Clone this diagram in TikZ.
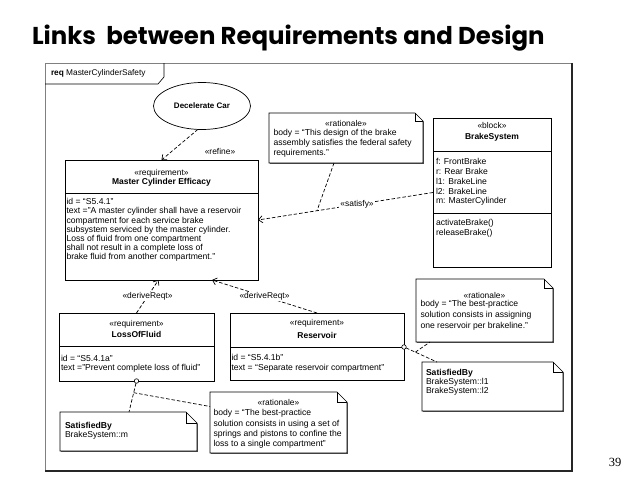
\documentclass[tikz,border=0pt]{standalone}
\usepackage{fontspec}
\setmainfont{Liberation Sans}
\newfontfamily\titlefont{Poppins}
\newfontfamily\pagefont{Liberation Serif}
\usetikzlibrary{
	arrows.meta,
	calc,
	shapes.geometric,
	shadows,
	positioning
}

\tikzset{
	every node/.style={inner sep=0pt,outer sep=0pt},
	small/.style={font=\fontsize{8.4}{10}\selectfont},
	bname/.style={font=\bfseries\fontsize{8.5}{10}\selectfont},
	body/.style={font=\fontsize{8.6}{9.6}\selectfont,align=left,anchor=north west},
	umlbox/.style={draw,fill=white,line width=0.7pt,anchor=north west,
		drop shadow={shadow xshift=0.8pt,shadow yshift=-0.8pt,opacity=1,fill=black!70}},
	notebox/.style={anchor=north west},
	notedraw/.style={draw,fill=white,line width=0.7pt,
		drop shadow={shadow xshift=0.8pt,shadow yshift=-0.8pt,opacity=1,fill=black!70}},
	sep/.style={line width=0.6pt},
	dep/.style={dash pattern=on 3.5pt off 2pt,line width=0.7pt},
	deptip/.style={dep,-{Straight Barb[length=4pt,width=7pt]}},
	lbl/.style={small,fill=white,inner sep=1pt},
	dot/.style={circle,draw,fill=white,line width=0.6pt,minimum size=4.5pt}
}

\begin{document}
\begin{tikzpicture}[x=1pt,y=-1pt]
	\useasboundingbox (0,0) rectangle (638,479);
	
	% titel
	\node[anchor=west,font=\titlefont\bfseries\fontsize{24.4}{28}\selectfont] (title) at (32,38) {Links\ \ between Requirements and Design};
	\node[font=\pagefont\fontsize{12.5}{14}\selectfont] (pageno) at (615,462) {39};
	
	% rahmen
	\node[notebox,minimum width=527pt,minimum height=408pt] (frm) at (45,63) {};
	\draw[gray,line width=0.6pt] (frm.south west) -- (frm.north west) -- (frm.north east);
	\draw[black!85,line width=1.3pt] (frm.north east) -- (frm.south east) -- (frm.south west);
	\draw[line width=0.6pt] ([yshift=-21pt]frm.north west) -- ++(113,0) -- ++(6,-7) -- ++(0,-14);
	\node[anchor=west,font=\fontsize{8.3}{9}\selectfont] (frmlbl) at (51,73) {\textbf{req} MasterCylinderSafety};
	
	% use case
	\node[ellipse,draw,line width=0.7pt,minimum width=97pt,minimum height=47pt,font=\bfseries\fontsize{8}{9}\selectfont] (dc) at (202,106) {Decelerate Car};
	
	% master cylinder efficacy
	\node[umlbox,minimum width=193pt,minimum height=120pt] (mce) at (65,160) {};
	\node[small] (mcest) at ([yshift=-13pt]mce.north) {«requirement»};
	\node[bname] (mcenm) at ([yshift=-22.5pt]mce.north) {Master Cylinder Efficacy};
	\draw[sep] ([yshift=-33pt]mce.north west) -- ([yshift=-33pt]mce.north east);
	\node[body,font=\fontsize{8.6}{9.2}\selectfont] (mcebd) at ([xshift=1.5pt,yshift=-38.5pt]mce.north west) {id = “S5.4.1”\\text =”A master cylinder shall have a reservoir\\compartment for each service brake\\subsystem serviced by the master cylinder.\\Loss of fluid from one compartment\\shall not result in a complete loss of\\brake fluid from another compartment.”};
	
	% brake system
	\node[umlbox,minimum width=118pt,minimum height=149pt] (bs) at (433,118) {};
	\node[small] (bsst) at ([yshift=-7.5pt]bs.north) {«block»};
	\node[bname] (bsnm) at ([yshift=-19.5pt]bs.north) {BrakeSystem};
	\draw[sep] ([yshift=-33pt]bs.north west) -- ([yshift=-33pt]bs.north east);
	\draw[sep] ([yshift=-95pt]bs.north west) -- ([yshift=-95pt]bs.north east);
	\node[body,font=\fontsize{8.6}{9.8}\selectfont] (bsatt) at ([xshift=3pt,yshift=-40.5pt]bs.north west) {f: FrontBrake\\r: Rear Brake\\l1: BrakeLine\\l2: BrakeLine\\m: MasterCylinder};
	\node[body,font=\fontsize{8.6}{9.8}\selectfont] (bsop) at ([xshift=3pt,yshift=-101.5pt]bs.north west) {activateBrake()\\releaseBrake()};
	
	% rationale oben
	\node[notebox,minimum width=154pt,minimum height=50pt] (rat1) at (269,113) {};
	\draw[notedraw] (rat1.north west) -- ([xshift=-8pt]rat1.north east) -- ([yshift=-8pt]rat1.north east) -- (rat1.south east) -- (rat1.south west) -- cycle;
	\draw[sep] ([xshift=-8pt]rat1.north east) |- ([yshift=-8pt]rat1.north east);
	\node[small] (rat1st) at ([yshift=-10pt]rat1.north) {«rationale»};
	\node[body,font=\fontsize{8.6}{10}\selectfont] (rat1bd) at ([xshift=4.5pt,yshift=-16.5pt]rat1.north west) {body = “This design of the brake\\assembly satisfies the federal safety\\requirements.”};
	
	% loss of fluid
	\node[umlbox,minimum width=155pt,minimum height=68pt] (lof) at (59,313) {};
	\node[small] (lofst) at ([yshift=-11pt]lof.north) {«requirement»};
	\node[bname] (lofnm) at ([yshift=-21.5pt]lof.north) {LossOfFluid};
	\draw[sep] ([yshift=-33pt]lof.north west) -- ([yshift=-33pt]lof.north east);
	\node[body,font=\fontsize{8.6}{9.2}\selectfont] (lofbd) at ([xshift=2pt,yshift=-42.5pt]lof.north west) {id = “S5.4.1a”\\text =”Prevent complete loss of fluid”};
	
	% reservoir
	\node[umlbox,minimum width=174pt,minimum height=67pt] (res) at (230,313) {};
	\node[small] (resst) at ([yshift=-10.5pt]res.north) {«requirement»};
	\node[bname] (resnm) at ([yshift=-22.5pt]res.north) {Reservoir};
	\draw[sep] ([yshift=-34pt]res.north west) -- ([yshift=-34pt]res.north east);
	\node[body,font=\fontsize{8.6}{9.8}\selectfont] (resbd) at ([xshift=1.5pt,yshift=-41.5pt]res.north west) {id = “S5.4.1b”\\text = “Separate reservoir compartment”};
	
	% rationale rechts
	\node[notebox,minimum width=137pt,minimum height=63pt] (rat2) at (416,279) {};
	\draw[notedraw] (rat2.north west) -- ([xshift=-9pt]rat2.north east) -- ([yshift=-9pt]rat2.north east) -- (rat2.south east) -- (rat2.south west) -- cycle;
	\draw[sep] ([xshift=-9pt]rat2.north east) |- ([yshift=-9pt]rat2.north east);
	\node[small] (rat2st) at ([yshift=-16pt]rat2.north) {«rationale»};
	\node[body,font=\fontsize{8.6}{10.9}\selectfont] (rat2bd) at ([xshift=4.5pt,yshift=-21.5pt]rat2.north west) {body = “The best-practice\\solution consists in assigning\\one reservoir per brakeline.”};
	
	% satisfied by l1, l2
	\node[notebox,minimum width=141pt,minimum height=49pt] (sat2) at (422,362) {};
	\draw[notedraw] (sat2.north west) -- ([xshift=-10pt]sat2.north east) -- ([yshift=-10pt]sat2.north east) -- (sat2.south east) -- (sat2.south west) -- cycle;
	\draw[sep] ([xshift=-10pt]sat2.north east) |- ([yshift=-10pt]sat2.north east);
	\node[body,font=\fontsize{8.6}{9}\selectfont] (sat2bd) at ([xshift=4pt,yshift=-7.5pt]sat2.north west) {\textbf{SatisfiedBy}\\BrakeSystem::l1\\BrakeSystem::l2};
	
	% satisfied by m
	\node[notebox,minimum width=137pt,minimum height=39pt] (sat1) at (60,412) {};
	\draw[notedraw] (sat1.north west) -- ([xshift=-11pt]sat1.north east) -- ([yshift=-11pt]sat1.north east) -- (sat1.south east) -- (sat1.south west) -- cycle;
	\draw[sep] ([xshift=-11pt]sat1.north east) |- ([yshift=-11pt]sat1.north east);
	\node[body,font=\fontsize{8.6}{9}\selectfont] (sat1bd) at ([xshift=5pt,yshift=-10.5pt]sat1.north west) {\textbf{SatisfiedBy}\\BrakeSystem::m};
	
	% rationale unten
	\node[notebox,minimum width=137pt,minimum height=61pt] (rat3) at (210,392) {};
	\draw[notedraw] (rat3.north west) -- ([xshift=-10pt]rat3.north east) -- ([yshift=-10pt]rat3.north east) -- (rat3.south east) -- (rat3.south west) -- cycle;
	\draw[sep] ([xshift=-10pt]rat3.north east) |- ([yshift=-10pt]rat3.north east);
	\node[small] (rat3st) at ([yshift=-10pt]rat3.north) {«rationale»};
	\node[body,font=\fontsize{8.6}{10.3}\selectfont] (rat3bd) at ([xshift=3.5pt,yshift=-17.5pt]rat3.north west) {body = “The best-practice\\solution consists in using a set of\\springs and pistons to confine the\\loss to a single compartment”};
	
	% refine
	\draw[deptip] (dc.260) -- (mce.north);
	\node[small] (refl) at (220,151) {«refine»};
	
	% satisfy
	\draw[deptip] (bs.west) -- node[lbl,pos=0.434] (satl) {«satisfy»} (mce.east) coordinate[pos=0.663] (satpt);
	\draw[dep] ([xshift=-12pt]rat1.south) -- (satpt);
	
	% deriveReqt
	\draw[deptip] (lof.north) -- node[lbl] (drl1) {«deriveReqt»} ([xshift=-3pt]mce.south);
	\draw[deptip] (res.north) -- node[lbl] (drl2) {«deriveReqt»} ([xshift=-46pt]mce.south east);
	
	% satisfiedBy anker
	\node[dot] (lofdot) at (lof.south) {};
	\node[dot] (resdot) at ([yshift=-34pt]res.north east) {};
	\draw[dep] (lofdot) -- ([xshift=69pt]sat1.north west) coordinate[pos=0.33] (lofbr);
	\draw[dep] (lofbr) -- ([yshift=16pt]rat3.west);
	\draw[dep] (resdot) -- ([xshift=15pt]sat2.north west) coordinate[pos=0.3] (resbr);
	\draw[dep] (resbr) -- ([xshift=14pt]rat2.south west);
\end{tikzpicture}
\end{document}
